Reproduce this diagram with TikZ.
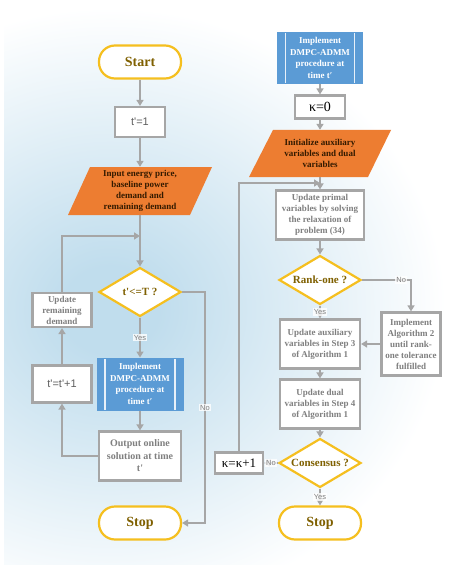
\documentclass[tikz,border=0pt]{standalone}
\usepackage{fontspec}
\setmainfont{Liberation Serif}
\newfontfamily\sansf{Liberation Sans}
\usetikzlibrary{arrows.meta,shapes.geometric,calc}

\definecolor{gold}{HTML}{F5BF1F}
\definecolor{goldtxt}{HTML}{7F6000}
\definecolor{grayb}{HTML}{A6A6A6}
\definecolor{graytxt}{HTML}{7F7F7F}
\definecolor{darkgraytxt}{HTML}{5F5F5F}
\definecolor{orng}{HTML}{ED7D31}
\definecolor{orngtxt}{HTML}{331A00}
\definecolor{blu}{HTML}{5B9BD5}
\definecolor{bgblue}{HTML}{C0DDED}

\pgfdeclareradialshading{bgshade}{\pgfpoint{0bp}{0bp}}{color(0bp)=(bgblue); color(3bp)=(bgblue); color(21bp)=(white); color(50bp)=(white)}

\begin{document}
\begin{tikzpicture}[x=1pt,y=-1pt,
  term/.style={draw=gold, line width=2.2pt, fill=white, rounded corners=16pt,
    minimum width=82pt, minimum height=33pt, inner sep=0pt,
    font=\fontsize{14}{16}\selectfont\bfseries, text=goldtxt},
  gbox/.style={draw=grayb, line width=2.2pt, fill=white, align=center, inner sep=1pt,
    font=\fontsize{9}{11}\selectfont\bfseries, text=graytxt},
  sbox/.style={gbox, font=\sansf\fontsize{11}{13}\selectfont, text=darkgraytxt},
  kbox/.style={gbox, font=\fontsize{14}{16}\selectfont, text=black},
  bbox/.style={draw=blu, fill=blu, line width=1pt, align=center, inner sep=1pt,
    font=\fontsize{9}{11.4}\selectfont\bfseries, text=white,
    path picture={
      \draw[white!85!blu, line width=1.2pt]
        ([xshift=8pt]path picture bounding box.north west) -- ([xshift=8pt]path picture bounding box.south west)
        ([xshift=-8pt]path picture bounding box.north east) -- ([xshift=-8pt]path picture bounding box.south east);
    }},
  ptext/.style={align=center, inner sep=0pt,
    font=\fontsize{9}{11}\selectfont\bfseries, text=orngtxt},
  dec/.style={diamond, aspect=1.67, draw=gold, line width=2.2pt, fill=white, inner sep=0pt,
    minimum width=82pt, minimum height=49pt,
    font=\fontsize{11}{13}\selectfont\bfseries, text=goldtxt},
  arr/.style={draw=grayb, line width=1.8pt, -{Triangle[length=6pt,width=7pt]}},
  lbl/.style={font=\sansf\fontsize{7.5}{8}\selectfont, text=graytxt, fill=white, fill opacity=0.8, text opacity=1, inner sep=1pt}
]
% background
\fill[white] (0,0) rectangle (474,572);
\begin{scope}
  \clip (4,6) rectangle (470,564);
  \shade[shading=bgshade] (110,310) ellipse [x radius=400, y radius=360];
\end{scope}

% ---------- left column ----------
\node[term] (start) at (140,62) {Start};
\node[sbox, minimum width=50pt, minimum height=30pt] (t1) at (140,122) {t\textquotesingle=1};
\fill[orng] (90,167) -- (212,167) -- (190,215) -- (68,215) -- cycle;
\node[ptext, minimum width=100pt, minimum height=48pt] (in1) at (140,191)
  {Input energy price,\\ baseline power\\ demand and\\ remaining demand};
\node[dec] (d1) at (140,292) {t\textquotesingle{}<=T ?};
\node[gbox, minimum width=59pt, minimum height=34pt] (upd) at (62,310) {Update\\ remaining\\ demand};
\node[bbox, minimum width=86pt, minimum height=52pt] (imp1) at (140,384)
  {Implement\\ DMPC-ADMM\\ procedure at\\ time t′};
\node[sbox, minimum width=59pt, minimum height=37pt] (tinc) at (62,384) {t\textquotesingle=t\textquotesingle+1};
\node[gbox, minimum width=82pt, minimum height=49pt, font=\fontsize{10}{12.5}\selectfont\bfseries] (out) at (140,456)
  {Output online\\ solution at time\\ t\textquotesingle};
\node[term] (stop1) at (140,523) {Stop};

\coordinate (j1) at (140,236);
\coordinate (n1) at (205,292);

\draw[arr] (start) -- (t1);
\draw[arr] (t1) -- (in1);
\draw[arr] (in1) -- (d1);
\draw[arr] (d1) -- node[lbl]{Yes} (imp1);
\draw[arr] (imp1) -- (out);
\draw[arr] (out.west) -| (tinc.south);
\draw[arr] (tinc) -- (upd);
\draw[arr] (upd.north) |- (j1);
\draw[arr] (d1.east) -- (n1) |- node[lbl, pos=0.25]{No} (stop1.east);

% ---------- right column ----------
\node[bbox, minimum width=85pt, minimum height=51pt] (imp2) at (320,58)
  {Implement\\ DMPC-ADMM\\ procedure at\\ time t′};
\node[kbox, minimum width=50pt, minimum height=23pt, inner sep=0pt] (k0) at (320,107) {κ=0};
\fill[orng] (273,130) -- (391,130) -- (368,177) -- (249,177) -- cycle;
\node[ptext, minimum width=95pt, minimum height=47pt] (in2) at (320,153.5)
  {Initialize auxiliary\\ variables and dual\\ variables};
\node[gbox, minimum width=88pt, minimum height=49pt] (prim) at (320,215)
  {Update primal\\ variables by solving\\ the relaxation of\\ problem (34)};
\node[dec] (rank) at (320,280) {Rank-one ?};
\node[gbox, minimum width=59pt, minimum height=63pt] (alg2) at (411,344)
  {Implement\\ Algorithm 2\\ until rank-\\ one tolerance\\ fulfilled};
\node[gbox, minimum width=80pt, minimum height=49pt] (aux) at (320,344)
  {Update auxiliary\\ variables in Step 3\\ of Algorithm 1};
\node[gbox, minimum width=80pt, minimum height=49pt] (dual) at (320,404)
  {Update dual\\ variables in Step 4\\ of Algorithm 1};
\node[dec] (cons) at (320,463) {Consensus ?};
\node[kbox, minimum width=48pt, minimum height=21pt, inner sep=0pt, font=\fontsize{13}{15}\selectfont] (kinc) at (239,463) {κ=κ+1};
\node[term] (stop2) at (320,523) {Stop};

\coordinate (j2) at (320,183);

\draw[arr] (imp2) -- (k0);
\draw[arr] (k0) -- (in2);
\draw[arr] (in2) -- (prim);
\draw[arr] (prim) -- (rank);
\draw[arr] (rank) -- node[lbl]{Yes} (aux);
\draw[arr] (rank.east) -| node[lbl, pos=0.4]{No} (alg2.north);
\draw[arr] (alg2) -- (aux);
\draw[arr] (aux) -- (dual);
\draw[arr] (dual) -- (cons);
\draw[arr] (cons) -- node[lbl]{Yes} (stop2);
\draw[arr] (cons.west) -- node[lbl]{No} (kinc.east);
\draw[arr] (kinc.north) |- (j2);
\end{tikzpicture}
\end{document}
